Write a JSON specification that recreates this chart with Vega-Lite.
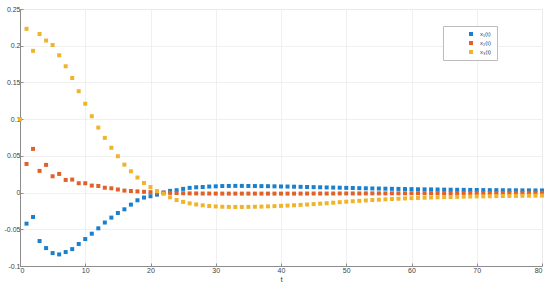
{
  "$schema": "https://vega.github.io/schema/vega-lite/v6.json",
  "width": 522,
  "height": 257,
  "autosize": "none",
  "padding": {"left": 20, "top": 9, "right": 8, "bottom": 23},
  "background": "white",
  "config": {
    "font": "Liberation Sans",
    "view": {"stroke": "#e3e3e3", "strokeWidth": 1},
    "axis": {
      "labelFont": "Liberation Sans",
      "labelFontSize": 7,
      "labelColor": "#404040",
      "domainColor": "#8c8c8c",
      "tickColor": "#8c8c8c",
      "gridColor": "#ececec",
      "gridWidth": 0.8,
      "tickSize": -3,
      "titleFont": "Liberation Sans",
      "titleFontWeight": "normal",
      "titleColor": "#404040",
      "titleFontSize": 8
    }
  },
  "data": {
    "values": [
      {"t":0,"x1":null,"x2":null,"x3":0.1},
      {"t":1,"x1":-0.0423,"x2":0.039,"x3":0.223},
      {"t":2,"x1":-0.0333,"x2":0.0595,"x3":0.193},
      {"t":3,"x1":-0.066,"x2":0.0295,"x3":0.216},
      {"t":4,"x1":-0.0756,"x2":0.0377,"x3":0.207},
      {"t":5,"x1":-0.0824,"x2":0.0222,"x3":0.201},
      {"t":6,"x1":-0.0842,"x2":0.0254,"x3":0.187},
      {"t":7,"x1":-0.081,"x2":0.0172,"x3":0.172},
      {"t":8,"x1":-0.077,"x2":0.0177,"x3":0.156},
      {"t":9,"x1":-0.070,"x2":0.0127,"x3":0.138},
      {"t":10,"x1":-0.0633,"x2":0.0127,"x3":0.121},
      {"t":11,"x1":-0.056,"x2":0.0095,"x3":0.104},
      {"t":12,"x1":-0.0487,"x2":0.009,"x3":0.0885},
      {"t":13,"x1":-0.0408,"x2":0.0066,"x3":0.0745},
      {"t":14,"x1":-0.0341,"x2":0.0058,"x3":0.061},
      {"t":15,"x1":-0.0278,"x2":0.0042,"x3":0.0495},
      {"t":16,"x1":-0.0228,"x2":0.0027,"x3":0.038},
      {"t":17,"x1":-0.0164,"x2":0.0021,"x3":0.029},
      {"t":18,"x1":-0.0105,"x2":0.0016,"x3":0.0205},
      {"t":19,"x1":-0.0068,"x2":0.0011,"x3":0.013},
      {"t":20,"x1":-0.005,"x2":0.0006,"x3":0.0075},
      {"t":21,"x1":-0.0028,"x2":0.0002,"x3":0.002},
      {"t":22,"x1":0.0,"x2":-0.0001,"x3":-0.0016},
      {"t":23,"x1":0.0023,"x2":-0.0004,"x3":-0.0065},
      {"t":24,"x1":0.0032,"x2":-0.0007,"x3":-0.0102},
      {"t":25,"x1":0.005,"x2":-0.0009,"x3":-0.0127},
      {"t":26,"x1":0.0064,"x2":-0.0011,"x3":-0.0147},
      {"t":27,"x1":0.0072,"x2":-0.0012,"x3":-0.0162},
      {"t":28,"x1":0.0076,"x2":-0.0013,"x3":-0.0174},
      {"t":29,"x1":0.0082,"x2":-0.0013,"x3":-0.0183},
      {"t":30,"x1":0.0085,"x2":-0.0014,"x3":-0.0189},
      {"t":31,"x1":0.0089,"x2":-0.0014,"x3":-0.0193},
      {"t":32,"x1":0.009,"x2":-0.0014,"x3":-0.0195},
      {"t":33,"x1":0.0091,"x2":-0.0014,"x3":-0.0196},
      {"t":34,"x1":0.0091,"x2":-0.0014,"x3":-0.0196},
      {"t":35,"x1":0.009,"x2":-0.0014,"x3":-0.0195},
      {"t":36,"x1":0.0089,"x2":-0.0014,"x3":-0.0193},
      {"t":37,"x1":0.0088,"x2":-0.0014,"x3":-0.0191},
      {"t":38,"x1":0.0087,"x2":-0.0014,"x3":-0.0188},
      {"t":39,"x1":0.0085,"x2":-0.0014,"x3":-0.0185},
      {"t":40,"x1":0.0083,"x2":-0.0014,"x3":-0.0181},
      {"t":41,"x1":0.0082,"x2":-0.0014,"x3":-0.0177},
      {"t":42,"x1":0.008,"x2":-0.0014,"x3":-0.0173},
      {"t":43,"x1":0.0078,"x2":-0.0014,"x3":-0.0168},
      {"t":44,"x1":0.0076,"x2":-0.0013,"x3":-0.0163},
      {"t":45,"x1":0.0074,"x2":-0.0013,"x3":-0.0157},
      {"t":46,"x1":0.0072,"x2":-0.0013,"x3":-0.0151},
      {"t":47,"x1":0.007,"x2":-0.0013,"x3":-0.0145},
      {"t":48,"x1":0.0068,"x2":-0.0013,"x3":-0.0138},
      {"t":49,"x1":0.0066,"x2":-0.0012,"x3":-0.0131},
      {"t":50,"x1":0.0064,"x2":-0.0012,"x3":-0.0124},
      {"t":51,"x1":0.0062,"x2":-0.0012,"x3":-0.0118},
      {"t":52,"x1":0.006,"x2":-0.0012,"x3":-0.0112},
      {"t":53,"x1":0.0058,"x2":-0.0011,"x3":-0.0107},
      {"t":54,"x1":0.0056,"x2":-0.0011,"x3":-0.0102},
      {"t":55,"x1":0.0055,"x2":-0.0011,"x3":-0.0097},
      {"t":56,"x1":0.0053,"x2":-0.0011,"x3":-0.0092},
      {"t":57,"x1":0.0051,"x2":-0.001,"x3":-0.0088},
      {"t":58,"x1":0.005,"x2":-0.001,"x3":-0.0084},
      {"t":59,"x1":0.0048,"x2":-0.001,"x3":-0.008},
      {"t":60,"x1":0.0047,"x2":-0.0009,"x3":-0.0076},
      {"t":61,"x1":0.0045,"x2":-0.0009,"x3":-0.0073},
      {"t":62,"x1":0.0044,"x2":-0.0009,"x3":-0.007},
      {"t":63,"x1":0.0043,"x2":-0.0008,"x3":-0.0067},
      {"t":64,"x1":0.0042,"x2":-0.0008,"x3":-0.0064},
      {"t":65,"x1":0.004,"x2":-0.0008,"x3":-0.0062},
      {"t":66,"x1":0.0039,"x2":-0.0007,"x3":-0.006},
      {"t":67,"x1":0.0038,"x2":-0.0007,"x3":-0.0058},
      {"t":68,"x1":0.0037,"x2":-0.0007,"x3":-0.0056},
      {"t":69,"x1":0.0036,"x2":-0.0006,"x3":-0.0054},
      {"t":70,"x1":0.0035,"x2":-0.0006,"x3":-0.0052},
      {"t":71,"x1":0.0034,"x2":-0.0006,"x3":-0.0051},
      {"t":72,"x1":0.0033,"x2":-0.0005,"x3":-0.005},
      {"t":73,"x1":0.0033,"x2":-0.0005,"x3":-0.0048},
      {"t":74,"x1":0.0032,"x2":-0.0005,"x3":-0.0047},
      {"t":75,"x1":0.0031,"x2":-0.0004,"x3":-0.0046},
      {"t":76,"x1":0.0031,"x2":-0.0004,"x3":-0.0045},
      {"t":77,"x1":0.003,"x2":-0.0004,"x3":-0.0044},
      {"t":78,"x1":0.003,"x2":-0.0003,"x3":-0.0043},
      {"t":79,"x1":0.0029,"x2":-0.0003,"x3":-0.0042},
      {"t":80,"x1":0.0029,"x2":-0.0003,"x3":-0.0041}
    ]
  },
  "transform": [
    {"fold": ["x1", "x2", "x3"], "as": ["series", "v"]},
    {"filter": "datum.v != null"}
  ],
  "mark": {"type": "point", "shape": "square", "filled": true, "size": 16, "opacity": 1},
  "encoding": {
    "x": {
      "field": "t", "type": "quantitative",
      "scale": {"domain": [0, 80], "nice": false},
      "axis": {"values": [0,10,20,30,40,50,60,70,80], "title": "t", "titlePadding": 2, "labelPadding": 3, "grid": true}
    },
    "y": {
      "field": "v", "type": "quantitative",
      "scale": {"domain": [-0.1, 0.25], "nice": false, "zero": false},
      "axis": {"values": [-0.1,-0.05,0,0.05,0.1,0.15,0.2,0.25], "labelExpr": "toString(datum.value)", "title": null, "labelPadding": 3, "grid": true}
    },
    "color": {
      "field": "series", "type": "nominal",
      "scale": {"domain": ["x1","x2","x3"], "range": ["#1a80cc", "#e0622a", "#f0b42a"]},
      "legend": {
        "title": null,
        "orient": "none",
        "legendX": 423,
        "legendY": 17,
        "direction": "vertical",
        "strokeColor": "#bdbdbd",
        "fillColor": "white",
        "padding": 5,
        "symbolType": "square",
        "symbolSize": 16,
        "symbolOffset": 20,
        "labelOffset": 6,
        "labelFontSize": 6,
        "labelColor": "#404040",
        "rowPadding": 3,
        "labelExpr": "datum.label == 'x1' ? 'x₁(t)\u00a0\u00a0\u00a0\u00a0\u00a0\u00a0\u00a0' : datum.label == 'x2' ? 'x₂(t)\u00a0\u00a0\u00a0\u00a0\u00a0\u00a0\u00a0' : 'x₃(t)\u00a0\u00a0\u00a0\u00a0\u00a0\u00a0\u00a0'"
      }
    }
  }
}
